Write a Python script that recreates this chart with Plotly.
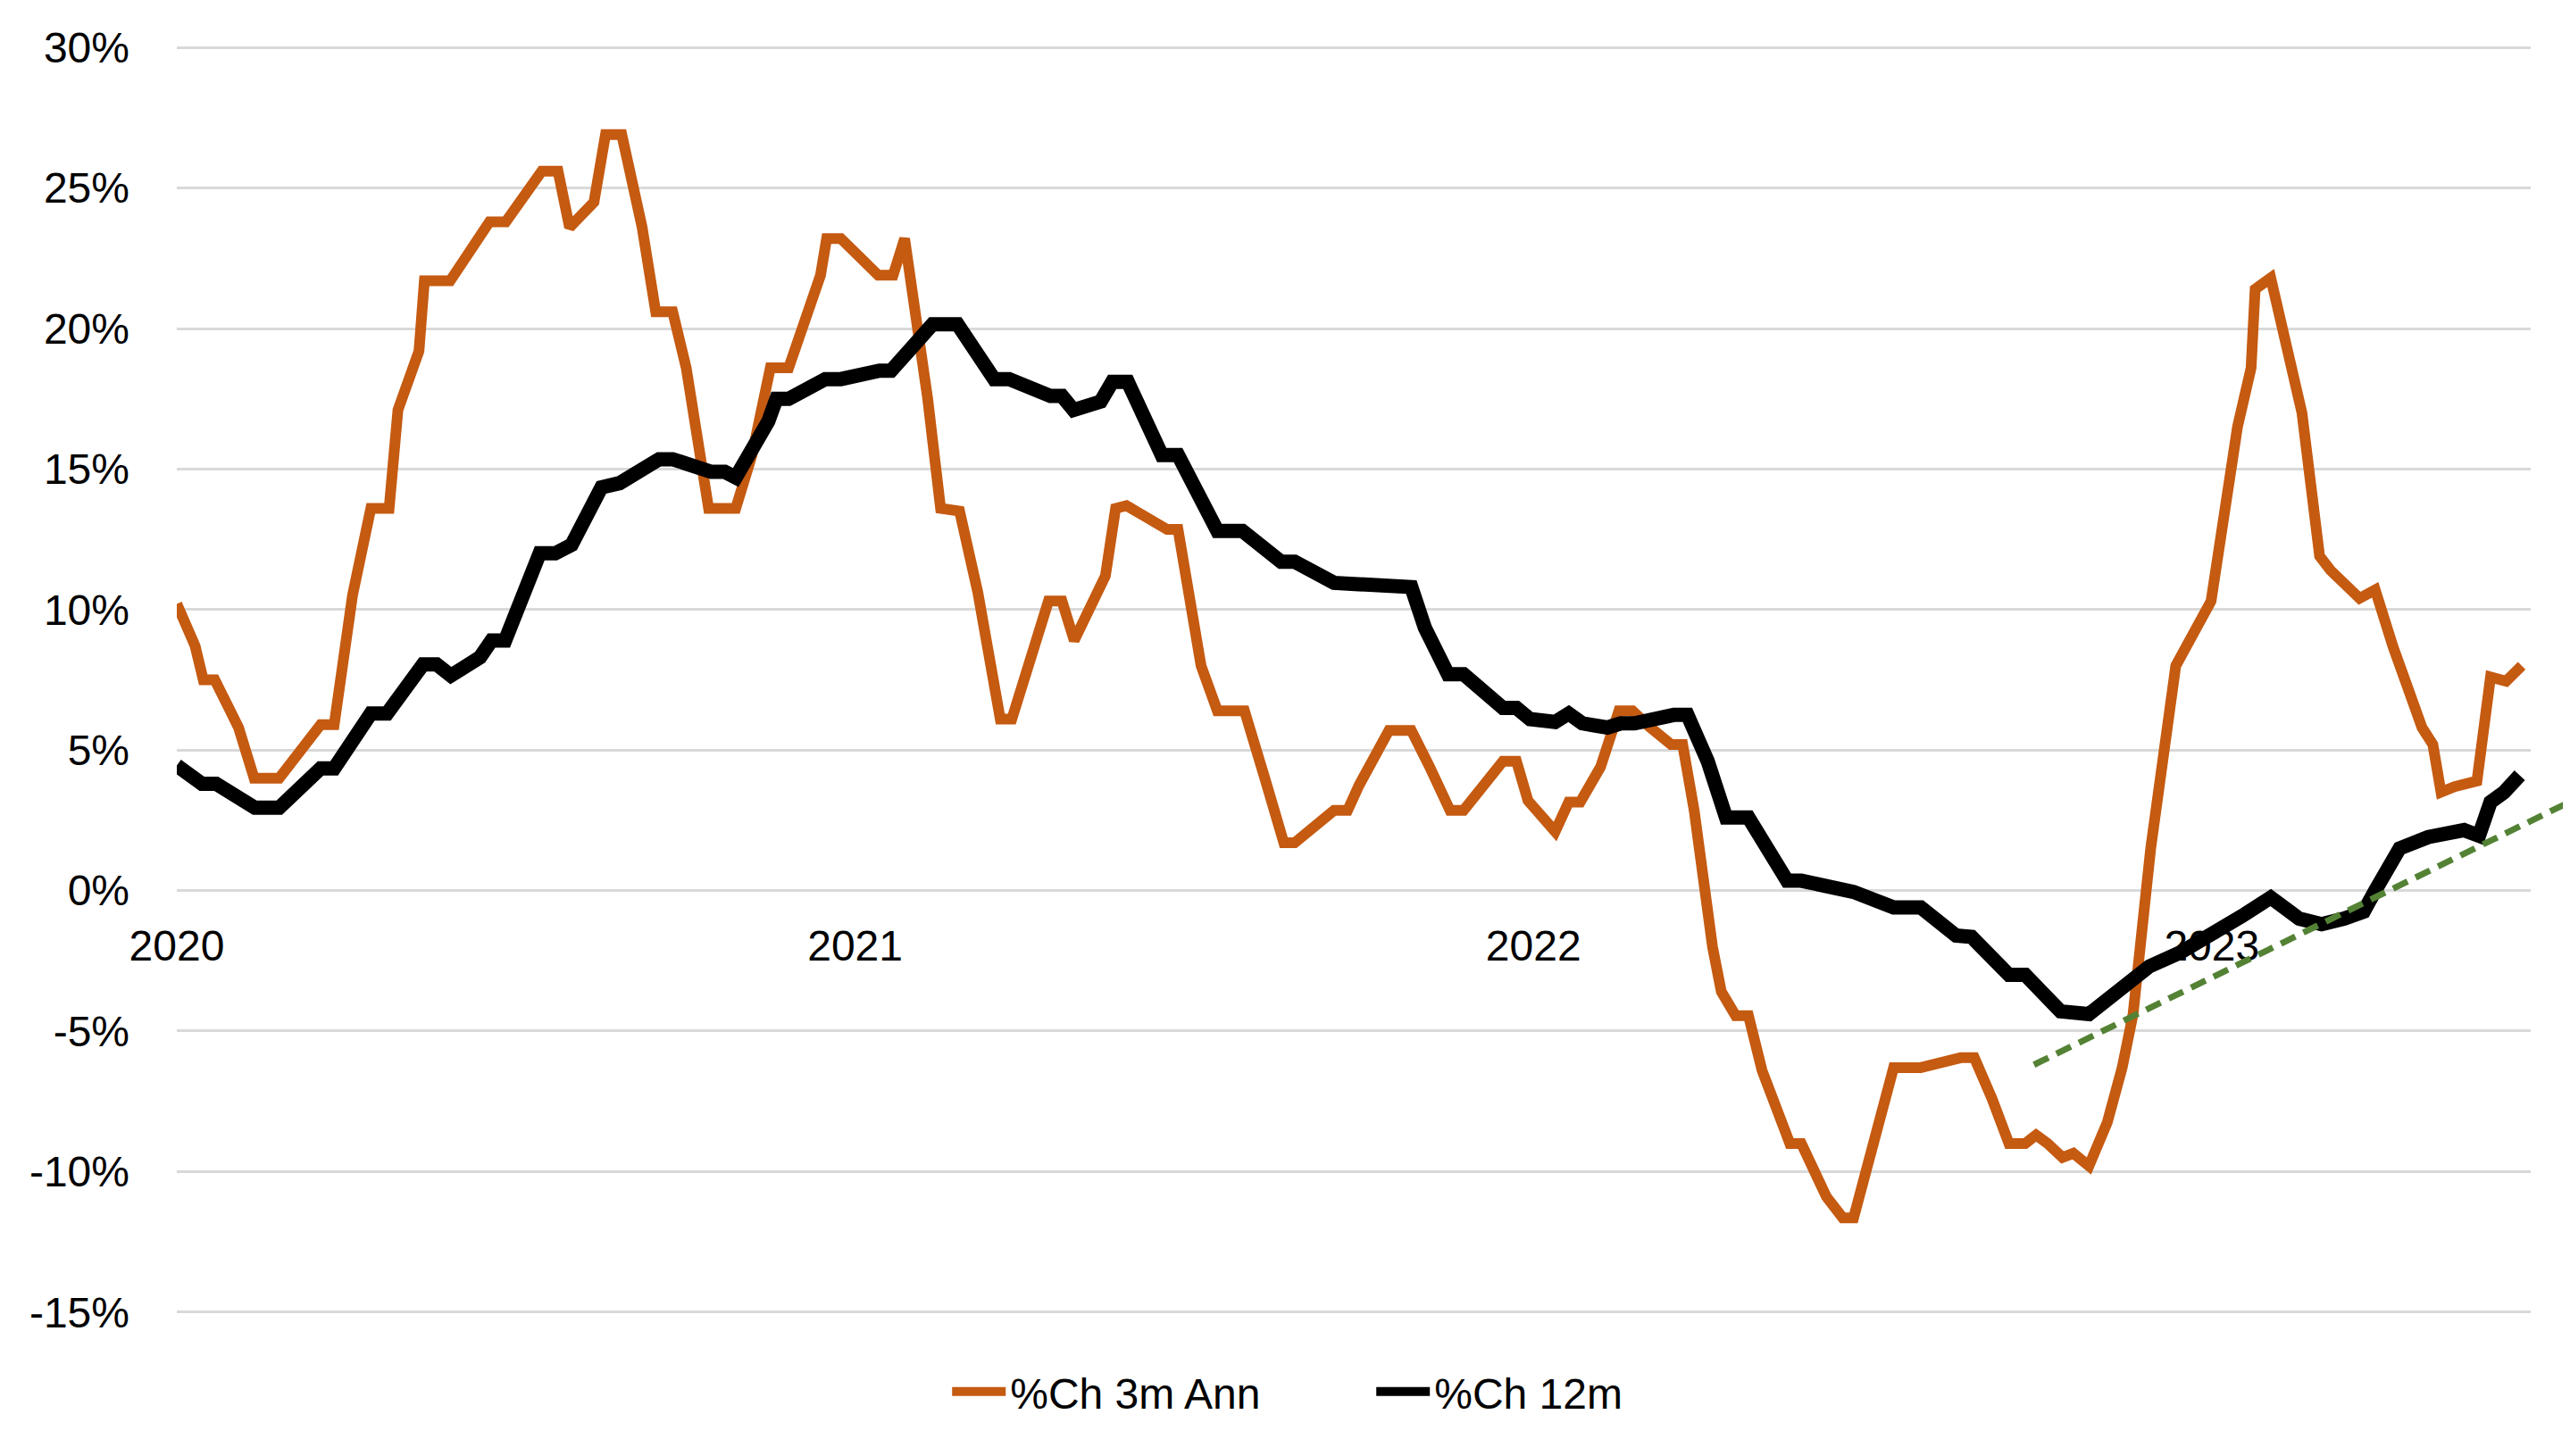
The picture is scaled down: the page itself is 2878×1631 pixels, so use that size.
import plotly.graph_objects as go

# Weekly series (x in decimal years, y in %)
ann3m_x = [2020.000, 2020.027, 2020.039, 2020.056, 2020.091, 2020.114, 2020.151, 2020.212, 2020.232, 2020.259,
           2020.286, 2020.313, 2020.326, 2020.357, 2020.365, 2020.403, 2020.461, 2020.485, 2020.538, 2020.562,
           2020.579, 2020.615, 2020.632, 2020.656, 2020.686, 2020.706, 2020.731, 2020.751, 2020.784, 2020.824,
           2020.848, 2020.875, 2020.902, 2020.949, 2020.958, 2020.979, 2021.034, 2021.056, 2021.073, 2021.090,
           2021.107, 2021.126, 2021.154, 2021.181, 2021.214, 2021.231, 2021.285, 2021.305, 2021.323, 2021.369,
           2021.384, 2021.400, 2021.460, 2021.476, 2021.510, 2021.534, 2021.574, 2021.604, 2021.632, 2021.648,
           2021.676, 2021.706, 2021.726, 2021.743, 2021.787, 2021.820, 2021.847, 2021.877, 2021.897, 2021.934,
           2021.955, 2021.975, 2021.992, 2022.032, 2022.052, 2022.069, 2022.099, 2022.126, 2022.146, 2022.170,
           2022.203, 2022.220, 2022.237, 2022.264, 2022.277, 2022.298, 2022.317, 2022.337, 2022.378, 2022.395,
           2022.432, 2022.456, 2022.472, 2022.531, 2022.571, 2022.630, 2022.650, 2022.676, 2022.701, 2022.725,
           2022.741, 2022.758, 2022.780, 2022.796, 2022.819, 2022.846, 2022.868, 2022.884, 2022.910, 2022.947,
           2022.999, 2023.038, 2023.058, 2023.064, 2023.087, 2023.133, 2023.159, 2023.175, 2023.218, 2023.241,
           2023.267, 2023.310, 2023.326, 2023.338, 2023.358, 2023.391, 2023.411, 2023.434, 2023.457]
ann3m_y = [10.2, 8.7, 7.5, 7.5, 5.8, 4.0, 4.0, 5.9, 5.9, 10.5,
           13.6, 13.6, 17.1, 19.2, 21.7, 21.7, 23.8, 23.8, 25.6, 25.6,
           23.6, 24.5, 26.9, 26.9, 23.6, 20.6, 20.6, 18.6, 13.6, 13.6,
           15.5, 18.6, 18.6, 21.9, 23.2, 23.2, 21.9, 21.9, 23.2, 20.5,
           17.5, 13.6, 13.5, 10.6, 6.1, 6.1, 10.3, 10.3, 8.9, 11.2,
           13.6, 13.7, 12.85, 12.85, 8.0, 6.4, 6.4, 4.0, 1.7, 1.7,
           2.2, 2.85, 2.85, 3.75, 5.7, 5.7, 4.4, 2.85, 2.85, 3.9,
           4.6, 4.6, 3.2, 2.1, 3.15, 3.15, 4.4, 6.4, 6.4, 5.85,
           5.2, 5.2, 2.85, -2.0, -3.6, -4.45, -4.45, -6.4, -9.0, -9.0,
           -10.9, -11.65, -11.65, -6.3, -6.3, -5.95, -5.95, -7.4, -9.0, -9.0,
           -8.7, -9.0, -9.5, -9.35, -9.8, -8.25, -6.3, -4.4, 1.5, 8.0,
           10.3, 16.5, 18.6, 21.4, 21.8, 17.0, 11.9, 11.4, 10.4, 10.7,
           8.7, 5.8, 5.2, 3.5, 3.7, 3.9, 7.6, 7.45, 8.0]

ch12m_x = [2020.000, 2020.037, 2020.058, 2020.084, 2020.115, 2020.151, 2020.212, 2020.232, 2020.286, 2020.310,
           2020.363, 2020.383, 2020.404, 2020.447, 2020.464, 2020.484, 2020.535, 2020.558, 2020.582, 2020.626,
           2020.653, 2020.711, 2020.731, 2020.788, 2020.808, 2020.824, 2020.848, 2020.872, 2020.884, 2020.902,
           2020.956, 2020.979, 2021.036, 2021.053, 2021.114, 2021.151, 2021.205, 2021.227, 2021.288, 2021.305,
           2021.322, 2021.362, 2021.379, 2021.402, 2021.452, 2021.476, 2021.534, 2021.571, 2021.628, 2021.648,
           2021.706, 2021.787, 2021.820, 2021.840, 2021.874, 2021.897, 2021.955, 2021.975, 2021.995, 2022.032,
           2022.052, 2022.072, 2022.109, 2022.129, 2022.149, 2022.207, 2022.227, 2022.257, 2022.284, 2022.317,
           2022.337, 2022.374, 2022.395, 2022.459, 2022.472, 2022.531, 2022.571, 2022.623, 2022.646, 2022.701,
           2022.725, 2022.777, 2022.800, 2022.819, 2022.908, 2022.954, 2023.045, 2023.087, 2023.129, 2023.162,
           2023.195, 2023.224, 2023.241, 2023.277, 2023.319, 2023.372, 2023.394, 2023.411, 2023.431, 2023.454]
ch12m_y = [4.45, 3.8, 3.8, 3.4, 2.95, 2.95, 4.35, 4.35, 6.3, 6.3,
           8.05, 8.05, 7.65, 8.3, 8.9, 8.9, 12.0, 12.0, 12.3, 14.35,
           14.5, 15.35, 15.35, 14.9, 14.9, 14.7, 15.7, 16.7, 17.5, 17.5,
           18.2, 18.2, 18.5, 18.5, 20.15, 20.15, 18.2, 18.2, 17.6, 17.6,
           17.1, 17.4, 18.1, 18.1, 15.5, 15.5, 12.8, 12.8, 11.7, 11.7,
           10.95, 10.8, 10.8, 9.35, 7.7, 7.7, 6.5, 6.5, 6.1, 6.0,
           6.3, 5.95, 5.8, 5.95, 5.95, 6.25, 6.25, 4.6, 2.6, 2.6,
           1.8, 0.35, 0.35, -0.05, -0.05, -0.6, -0.6, -1.6, -1.65, -3.0,
           -3.0, -4.3, -4.3, -4.4, -2.7, -2.2, -0.9, -0.25, -1.0, -1.2,
           -1.0, -0.75, 0.0, 1.5, 1.9, 2.15, 1.95, 3.15, 3.5, 4.1]

# dashed trend line end points
trend_x = [2022.738, 2023.540]
trend_y = [-6.2, 3.3]

year_ticks = [2020, 2021, 2022, 2023]
y_ticks = [-15, -10, -5, 0, 5, 10, 15, 20, 25, 30]

W, H = 2878, 1631
left, right_gap, top, bottom = 190, 52, 44, 168
plot_w = W - left
x_start, px_per_year = 2020.0, 759.6
main_frac = (plot_w - right_gap) / plot_w
y_pad = 0.04  # keep the 30% and -15% grid lines inside the range so they get drawn

fig = go.Figure()
fig.add_trace(go.Scatter(x=ann3m_x, y=ann3m_y, mode='lines', name='%Ch 3m Ann',
                         line=dict(color='#C55A11', width=12)))
fig.add_trace(go.Scatter(x=ch12m_x, y=ch12m_y, mode='lines', name='%Ch 12m',
                         line=dict(color='#000000', width=16)))
# trend line lives on its own wider (invisible) axes so it runs to the picture edge
fig.add_trace(go.Scatter(x=trend_x, y=trend_y, mode='lines', showlegend=False,
                         xaxis='x2', yaxis='y2',
                         line=dict(color='#548235', width=7, dash='18px,10px')))

font = dict(family='Liberation Sans, Arial, sans-serif', size=48, color='#000000')

fig.update_layout(
    width=W, height=H,
    margin=dict(l=left, r=0, t=top, b=bottom, autoexpand=False),
    paper_bgcolor='white', plot_bgcolor='rgba(0,0,0,0)',
    font=font,
    xaxis=dict(domain=[0, main_frac], range=[x_start, x_start + (plot_w - right_gap) / px_per_year],
               tickvals=year_ticks, ticktext=[str(v) for v in year_ticks],
               showgrid=False, zeroline=False, showline=False, ticks='', automargin=False,
               anchor='free', position=(15 + y_pad) / (45 + 2 * y_pad), layer='below traces',
               ticklabelstandoff=29),
    yaxis=dict(domain=[0, 1], range=[-15 - y_pad, 30 + y_pad], tickvals=y_ticks,
               ticktext=[f'{v}%' for v in y_ticks], automargin=False,
               showgrid=True, gridcolor='#D9D9D9', gridwidth=2.5,
               zeroline=False, showline=False, ticks='', ticklabelstandoff=52),
    xaxis2=dict(domain=[0, 1], range=[x_start, x_start + plot_w / px_per_year],
                visible=False, anchor='y2', automargin=False),
    yaxis2=dict(domain=[0, 1], range=[-15 - y_pad, 30 + y_pad], visible=False, anchor='x2',
                automargin=False),
    legend=dict(orientation='h', xref='container', yref='container',
                x=0.531, xanchor='center', y=0.049, yanchor='middle',
                font=font, itemwidth=60, entrywidth=400, bgcolor='rgba(0,0,0,0)'),
    showlegend=True,
)

fig.write_html("out.html")
